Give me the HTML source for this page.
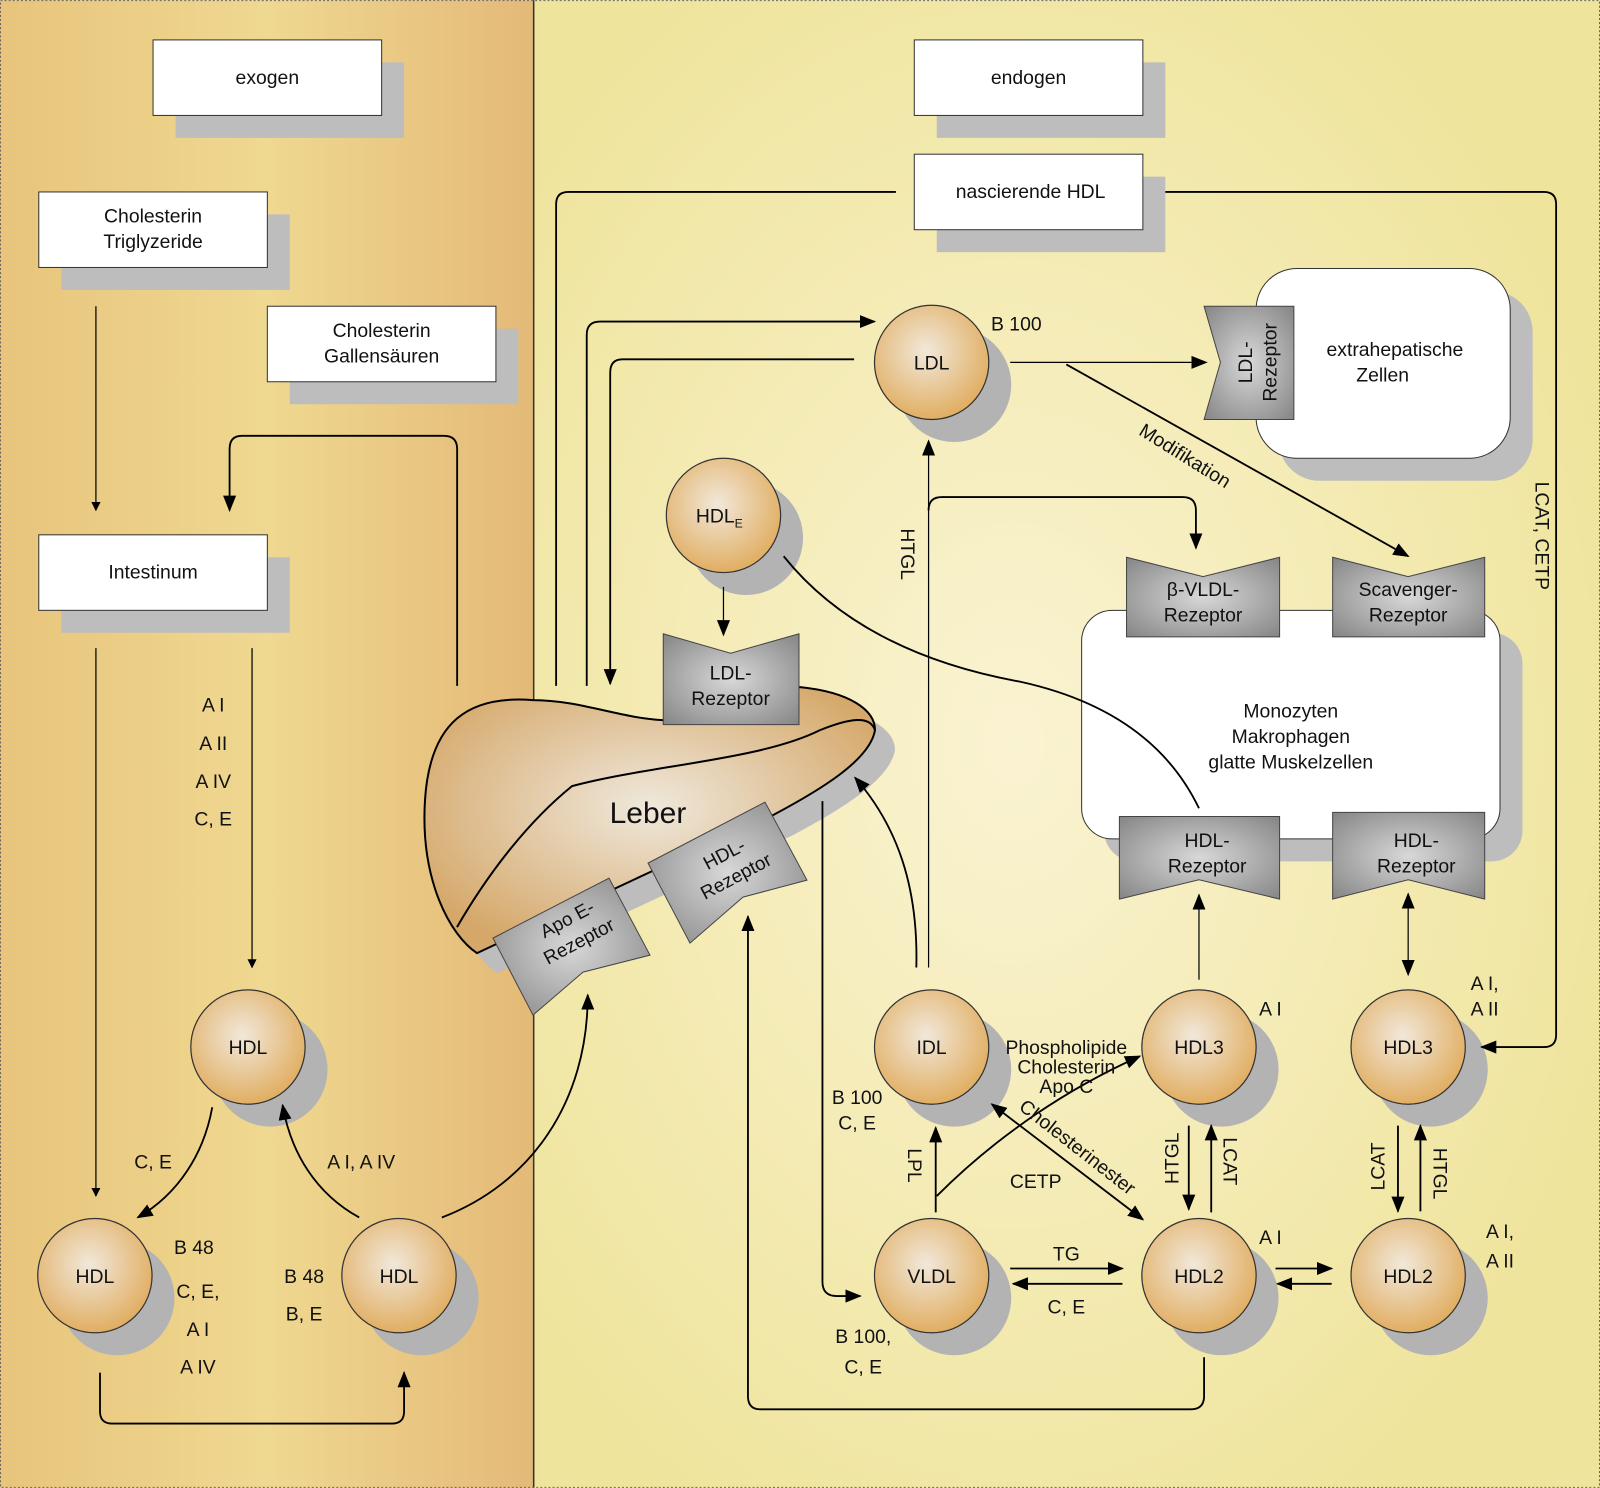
<!DOCTYPE html>
<html><head><meta charset="utf-8"><style>
html,body{margin:0;padding:0;background:#fff}
svg{display:block}
text{font-family:"Liberation Sans",sans-serif;font-size:19px;fill:#111}
</style></head><body>
<svg width="1600" height="1488" viewBox="0 0 1568 1458" xmlns="http://www.w3.org/2000/svg">
<defs>
<linearGradient id="lbg" x1="0" x2="1" y1="0" y2="0">
<stop offset="0" stop-color="#e8c47c"/><stop offset="0.5" stop-color="#efd890"/><stop offset="1" stop-color="#e4b977"/></linearGradient>
<radialGradient id="rbg" cx="0.45" cy="0.5" r="0.6">
<stop offset="0" stop-color="#faf3d2"/><stop offset="1" stop-color="#efe49c"/></radialGradient>
<radialGradient id="ball" cx="0.45" cy="0.4" r="0.6">
<stop offset="0" stop-color="#f1e8da"/><stop offset="1" stop-color="#e1ae62"/></radialGradient>
<radialGradient id="rec" cx="0.5" cy="0.5" r="0.7">
<stop offset="0" stop-color="#d8d8d8"/><stop offset="1" stop-color="#858585"/></radialGradient>
<radialGradient id="liv" cx="0.5" cy="0.45" r="0.6">
<stop offset="0" stop-color="#efe8dc"/><stop offset="1" stop-color="#d5a768"/></radialGradient>
<marker id="a" viewBox="0 0 10 10" refX="9" refY="5" markerWidth="9" markerHeight="9" markerUnits="userSpaceOnUse" orient="auto-start-reverse">
<path d="M0,0 L10,5 L0,10 z" fill="#000"/></marker>
<marker id="A" viewBox="0 0 10 10" refX="9" refY="5" markerWidth="16" markerHeight="16" markerUnits="userSpaceOnUse" orient="auto-start-reverse">
<path d="M0,1 L10,5 L0,9 z" fill="#000"/></marker>
</defs>
<rect x="0" y="0" width="523" height="1458" fill="url(#lbg)"/>
<rect x="523" y="0" width="1045" height="1458" fill="url(#rbg)"/>
<line x1="523" y1="0" x2="523" y2="1458" stroke="#333" stroke-width="1.5"/>
<rect x="0.5" y="0.5" width="1567" height="1457" fill="none" stroke="#666" stroke-dasharray="2,2"/>

<!-- boxes -->
<g fill="#bdbdbd">
<rect x="172" y="61" width="224" height="74"/><rect x="918" y="61" width="224" height="74"/>
<rect x="918" y="173" width="224" height="74"/><rect x="60" y="210" width="224" height="74"/>
<rect x="284" y="322" width="224" height="74"/><rect x="60" y="546" width="224" height="74"/>
<rect x="1253" y="285" width="249" height="186" rx="40"/><rect x="1082" y="620" width="410" height="224" rx="30"/>
</g>
<g fill="#fff" stroke="#333" stroke-width="1">
<rect x="150" y="39" width="224" height="74"/><rect x="896" y="39" width="224" height="74"/>
<rect x="896" y="151" width="224" height="74"/><rect x="38" y="188" width="224" height="74"/>
<rect x="262" y="300" width="224" height="74"/><rect x="38" y="524" width="224" height="74"/>
<rect x="1231" y="263" width="249" height="186" rx="40"/><rect x="1060" y="598" width="410" height="224" rx="30"/>
</g>
<g text-anchor="middle">
<text x="262" y="82">exogen</text><text x="1008" y="82">endogen</text><text x="1010" y="194">nascierende HDL</text>
<text x="150" y="218">Cholesterin</text><text x="150" y="243">Triglyzeride</text>
<text x="374" y="330">Cholesterin</text><text x="374" y="355">Gallensäuren</text>
<text x="150" y="567">Intestinum</text>
<text x="1367" y="349">extrahepatische</text><text x="1355" y="374">Zellen</text>
<text x="1265" y="703">Monozyten</text><text x="1265" y="728">Makrophagen</text><text x="1265" y="753">glatte Muskelzellen</text>
</g>

<!-- liver (actual coords) -->
<g transform="scale(0.98)">
<path d="M553,720 C490,715 450,740 445,820 C440,900 470,955 497,973 L670,892 L793,835 C840,810 890,780 895,750 C895,730 870,712 820,707 L683,740 C640,738 600,720 553,720 Z" fill="#bdbdbd"/>
<path d="M533,700 C470,695 430,720 425,800 C420,880 450,935 477,953 L650,872 L773,815 C820,790 870,760 875,730 C875,710 850,692 800,687 L663,720 C620,718 580,700 533,700 Z" fill="url(#liv)" stroke="#000" stroke-width="2"/>
<path d="M457,927 C490,870 530,820 572,786 C650,765 760,760 820,730 C850,718 870,715 875,730" fill="none" stroke="#000" stroke-width="2"/>
<text x="648" y="823" text-anchor="middle" style="font-size:30px">Leber</text>
<path d="M493,938 L609,878 L650,955 L583,972 L533,1015 Z" fill="url(#rec)" stroke="#444"/>
<path d="M648,863 L765,802 L807,880 L743,897 L690,943 Z" fill="url(#rec)" stroke="#444"/>
<g transform="translate(573,930) rotate(-28)" text-anchor="middle"><text x="0" y="-6">Apo E-</text><text x="0" y="19">Rezeptor</text></g>
<g transform="translate(730,865) rotate(-28)" text-anchor="middle"><text x="0" y="-6">HDL-</text><text x="0" y="19">Rezeptor</text></g>
</g>

<!-- receptors -->
<g fill="url(#rec)" stroke="#444">
<path d="M650,621 L716,640 L783,621 L783,710 L650,710 Z"/>
<path d="M1104,546 L1179,565 L1254,546 L1254,624 L1104,624 Z"/>
<path d="M1306,546 L1380,565 L1455,546 L1455,624 L1306,624 Z"/>
<path d="M1097,800 L1254,800 L1254,881 L1175,862 L1097,881 Z"/>
<path d="M1306,796 L1455,796 L1455,881 L1380,862 L1306,881 Z"/>
<path d="M1180,300 L1268,300 L1268,411 L1180,411 L1196,355 Z"/>
</g>
<g text-anchor="middle">
<text x="716" y="666">LDL-</text><text x="716" y="691">Rezeptor</text>
<text x="1179" y="584">β-VLDL-</text><text x="1179" y="609">Rezeptor</text>
<text x="1380" y="584">Scavenger-</text><text x="1380" y="609">Rezeptor</text>
<text x="1183" y="830">HDL-</text><text x="1183" y="855">Rezeptor</text>
<text x="1388" y="830">HDL-</text><text x="1388" y="855">Rezeptor</text>
<g transform="translate(1232,355) rotate(-90)"><text x="0" y="-5">LDL-</text><text x="0" y="19">Rezeptor</text></g>
</g>

<!-- balls -->
<g fill="#b3b3b3">
<circle cx="935" cy="377" r="56"/><circle cx="731" cy="527" r="56"/><circle cx="265" cy="1048" r="56"/>
<circle cx="115" cy="1272" r="56"/><circle cx="413" cy="1272" r="56"/><circle cx="935" cy="1048" r="56"/>
<circle cx="1197" cy="1048" r="56"/><circle cx="1402" cy="1048" r="56"/><circle cx="935" cy="1272" r="56"/>
<circle cx="1197" cy="1272" r="56"/><circle cx="1402" cy="1272" r="56"/>
</g>
<g fill="url(#ball)" stroke="#333" stroke-width="1.2">
<circle cx="913" cy="355" r="56"/><circle cx="709" cy="505" r="56"/><circle cx="243" cy="1026" r="56"/>
<circle cx="93" cy="1250" r="56"/><circle cx="391" cy="1250" r="56"/><circle cx="913" cy="1026" r="56"/>
<circle cx="1175" cy="1026" r="56"/><circle cx="1380" cy="1026" r="56"/><circle cx="913" cy="1250" r="56"/>
<circle cx="1175" cy="1250" r="56"/><circle cx="1380" cy="1250" r="56"/>
</g>
<g text-anchor="middle">
<text x="913" y="362">LDL</text><text x="705" y="512">HDL<tspan style="font-size:12px" dy="5">E</tspan></text>
<text x="243" y="1033">HDL</text><text x="93" y="1257">HDL</text><text x="391" y="1257">HDL</text>
<text x="913" y="1033">IDL</text><text x="1175" y="1033">HDL3</text><text x="1380" y="1033">HDL3</text>
<text x="913" y="1257">VLDL</text><text x="1175" y="1257">HDL2</text><text x="1380" y="1257">HDL2</text>
</g>

<!-- thin arrows -->
<g fill="none" stroke="#000" stroke-width="1.2" marker-end="url(#a)">
<path d="M94,300 V500"/><path d="M94,635 V1172"/><path d="M247,635 V948"/>
</g>
<!-- thick arrows -->
<g fill="none" stroke="#000" stroke-width="1.8" marker-end="url(#A)">
<path d="M448,672 V440 Q448,427 435,427 H237 Q225,427 225,440 V500"/>
<path d="M208,1085 C200,1130 175,1170 135,1193"/>
<path d="M352,1193 C310,1170 285,1130 277,1083"/>
<path d="M98,1345 V1383 Q98,1395 110,1395 H384 Q396,1395 396,1383 V1345"/>
<path d="M433,1193 C520,1160 576,1080 576,975"/>
<path d="M1142,188 H1513 Q1525,188 1525,200 V1014 Q1525,1026 1513,1026 H1452"/>
<path d="M575,672 V328 Q575,315 588,315 H857"/>
<path d="M837,352 H610 Q598,352 598,365 V670"/>
<path d="M709,575 V622" stroke-width="1.2"/>
<path d="M990,355 H1182" stroke-width="1.2"/>
<path d="M1045,357 L1380,545"/>
<path d="M910,948 V432" stroke-width="1.2"/>
<path d="M910,500 Q910,487 923,487 H1159 Q1172,487 1172,500 V537"/>
<path d="M898,948 C900,870 880,810 838,762"/>
<path d="M806,785 V1256 Q806,1270 820,1270 H843"/>
<path d="M1180,1330 V1368 Q1180,1381 1167,1381 H745 Q733,1381 733,1368 V898"/>
<path d="M917,1188 V1105"/>
<path d="M918,1172 C980,1110 1050,1065 1117,1035"/>
<path d="M972,1082 L1120,1195" marker-start="url(#A)"/>
<path d="M990,1243 H1100"/><path d="M1100,1258 H993"/>
<path d="M1165,1103 V1185"/><path d="M1187,1188 V1103"/>
<path d="M1250,1243 H1305"/><path d="M1305,1258 H1252"/>
<path d="M1370,1103 V1187"/><path d="M1392,1187 V1103"/>
<path d="M1175,960 V877" stroke-width="1.2"/>
<path d="M1380,955 V876" stroke-width="1.2" marker-start="url(#A)"/>
</g>
<g fill="none" stroke="#000" stroke-width="1.8">
<path d="M878,188 H557 Q545,188 545,200 V672"/>
<path d="M768,545 C820,610 900,650 1000,668 C1100,690 1150,740 1175,792"/>
</g>

<!-- labels -->
<g text-anchor="middle">
<text x="209" y="697">A I</text><text x="209" y="735">A II</text><text x="209" y="772">A IV</text><text x="209" y="809">C, E</text>
<text x="150" y="1145">C, E</text><text x="354" y="1145">A I, A IV</text>
<text x="190" y="1229">B 48</text><text x="194" y="1272">C, E,</text><text x="194" y="1309">A I</text><text x="194" y="1346">A IV</text>
<text x="298" y="1257">B 48</text><text x="298" y="1294">B, E</text>
<text x="996" y="324">B 100</text>
<text x="840" y="1082">B 100</text><text x="840" y="1107">C, E</text>
<text x="846" y="1316">B 100,</text><text x="846" y="1346">C, E</text>
<text x="1045" y="1033">Phospholipide</text><text x="1045" y="1052">Cholesterin</text><text x="1045" y="1071">Apo C</text>
<text x="1015" y="1164">CETP</text>
<text x="1045" y="1235">TG</text><text x="1045" y="1287">C, E</text>
<text x="1245" y="995">A I</text><text x="1245" y="1219">A I</text>
<text x="1455" y="970">A I,</text><text x="1455" y="995">A II</text>
<text x="1470" y="1213">A I,</text><text x="1470" y="1242">A II</text>
<text transform="translate(883,543) rotate(90)">HTGL</text>
<text transform="translate(890,1142) rotate(90)">LPL</text>
<text transform="translate(1155,1135) rotate(-90)">HTGL</text>
<text transform="translate(1199,1138) rotate(90)">LCAT</text>
<text transform="translate(1357,1143) rotate(-90)">LCAT</text>
<text transform="translate(1405,1150) rotate(90)">HTGL</text>
<text transform="translate(1505,525) rotate(90)">LCAT, CETP</text>
<text transform="translate(1158,452) rotate(32)">Modifikation</text>
<text transform="translate(1052,1129) rotate(38)">Cholesterinester</text>
</g>
</svg>
</body></html>
